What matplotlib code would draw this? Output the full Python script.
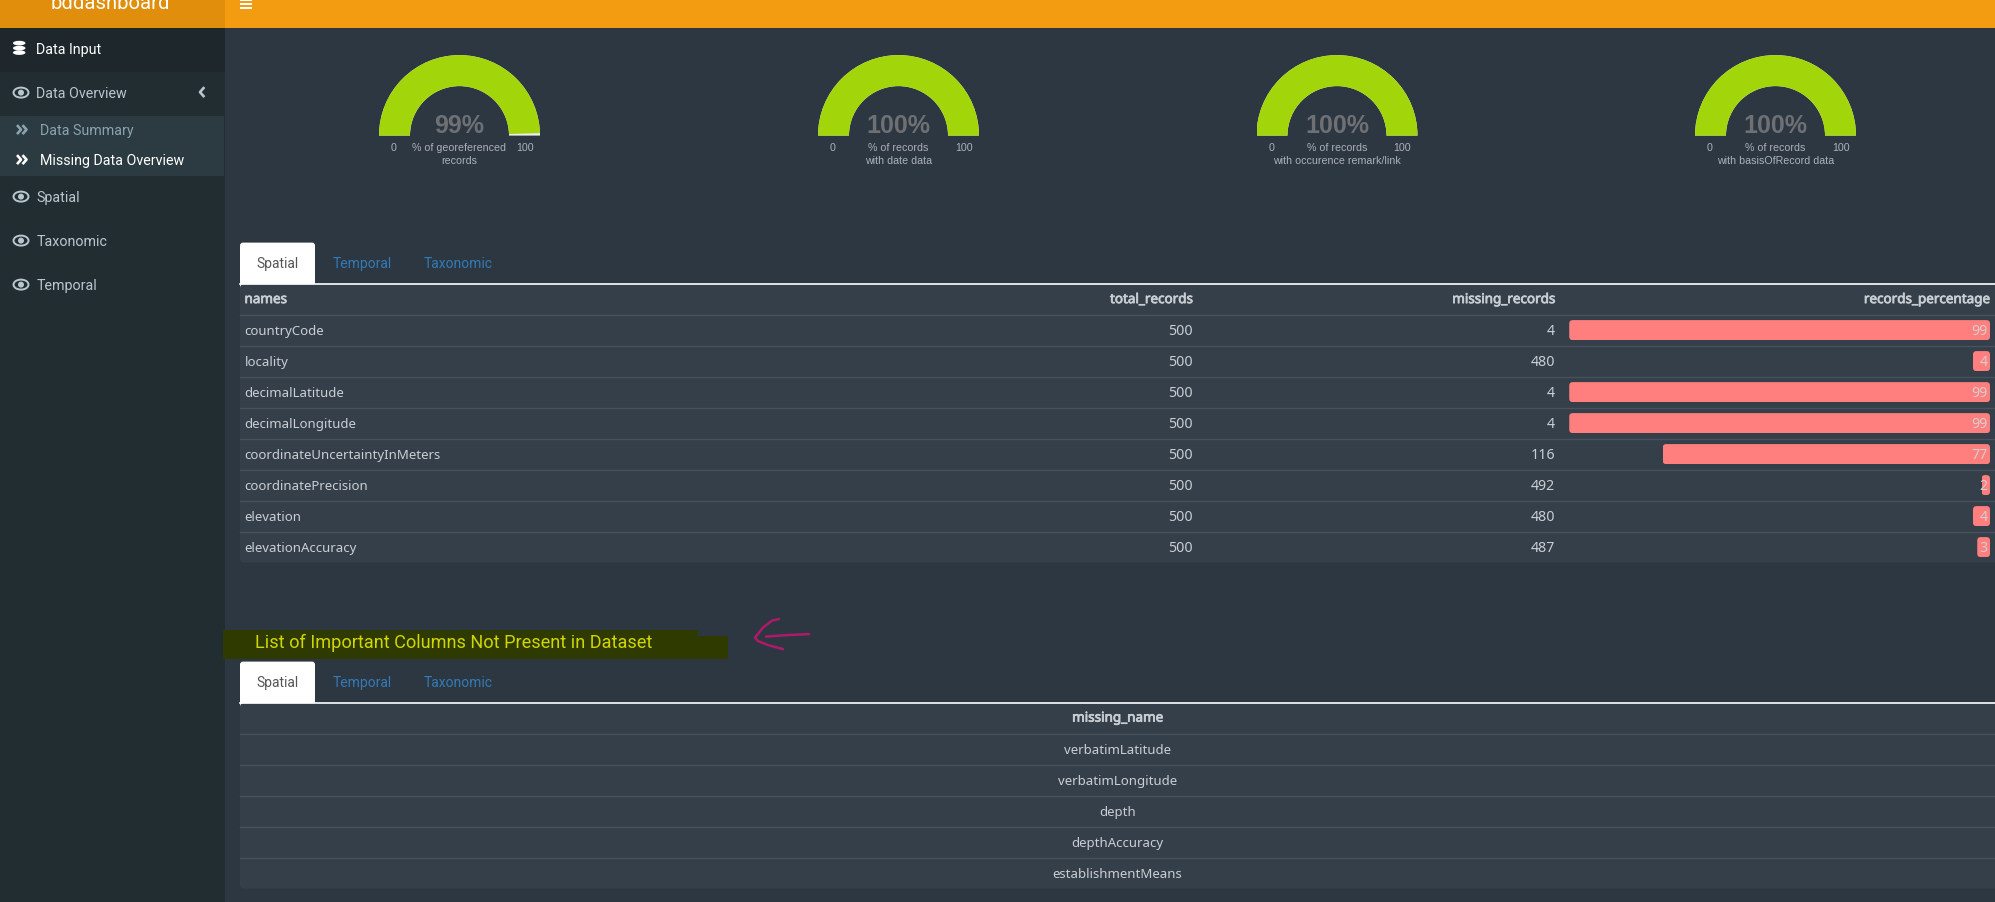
import matplotlib
matplotlib.use("Agg")
import matplotlib.pyplot as plt
import matplotlib.patheffects as pe
from matplotlib.patches import Rectangle, FancyBboxPatch, Wedge, Ellipse, Circle, Polygon

# ---- data ----
gauge_values = [99, 100, 100, 100]
gauge_labels = [["% of georeferenced", "records"], ["% of records", "with date data"],
                ["% of records", "with occurence remark/link"], ["% of records", "with basisOfRecord data"]]
gauge_min = 0
gauge_max = 100
names = ["countryCode", "locality", "decimalLatitude", "decimalLongitude",
         "coordinateUncertaintyInMeters", "coordinatePrecision", "elevation", "elevationAccuracy"]
total_records = [500, 500, 500, 500, 500, 500, 500, 500]
missing_records = [4, 480, 4, 4, 116, 492, 480, 487]
records_percentage = [99, 4, 99, 99, 77, 2, 4, 3]
missing_names = ["verbatimLatitude", "verbatimLongitude", "depth", "depthAccuracy", "establishmentMeans"]
tabs = ["Spatial", "Temporal", "Taxonomic"]
menu = ["Data Input", "Data Overview", "Spatial", "Taxonomic", "Temporal"]
submenu = ["Data Summary", "Missing Data Overview"]
heading = "List of Important Columns Not Present in Dataset"

# ---- style ----
W, H = 1995, 903
DY = 0.6
BG = "#2d3741"; TABLE = "#353f4a"; RULE = "#48525c"; SIDE = "#222d32"
UI = "Roboto"; TXT = "Noto Sans"; TCOL = "#c9ced3"
NAME_FS = 9.5; NUM_FS = 10.2; HEAD_FS = 9.7; MENU_FS = 10.3
BOLD = [pe.withStroke(linewidth=0.55, foreground=TCOL)]
fig = plt.figure(figsize=(W / 100, H / 100), dpi=100, facecolor=BG)

def px_axes(x0, y0, x1, y1):
    return fig.add_axes([x0 / W, 1 - (y1 + DY) / H, (x1 - x0) / W, (y1 - y0) / H])

c = px_axes(0, 0, W, H)
c.set_xlim(0, W); c.set_ylim(H, 0); c.axis("off")

def rect(x0, y0, x1, y1, color, **kw):
    c.add_patch(Rectangle((x0, y0), x1 - x0, y1 - y0, fc=color, ec="none", **kw))

# header & sidebar
rect(0, -2, W, 28, "#f39c12")
rect(0, -2, 225, 28, "#e08e0b")
rect(0, 28, 225, H + 2, SIDE)
rect(0, 28, 225, 72, "#1e282c")
rect(0, 116, 224, 176, "#2c3b41")
c.text(110.5, 8.5, "bddashboard", color="white", fontsize=14.6, family=UI, ha="center", va="baseline")
for y in (-1, 3, 7):
    rect(240, y, 252, y + 1.9, "white")

def eye(x, y, col):
    c.add_patch(Ellipse((x, y), 15, 10, fc="none", ec=col, lw=1.4))
    c.add_patch(Circle((x, y), 3, fc=col, ec="none"))

def dbl(x, y, col):
    for dx in (0, 5.5):
        c.plot([x + dx, x + dx + 4, x + dx], [y - 4.5, y, y + 4.5], color=col, lw=1.9, solid_capstyle="butt")

# database icon
for y in (43.5, 48.5, 53):
    c.add_patch(Ellipse((19.2, y), 12.5, 4.6, fc="white", ec="none"))
c.text(36.5, 49, menu[0], color="white", fontsize=MENU_FS, family=UI, va="center")
for label, y in zip(menu[1:], (93, 197, 241, 285)):
    eye(21, y, "#b8c7ce")
    c.text(36.5, y, label, color="#b8c7ce", fontsize=MENU_FS, family=UI, va="center")
c.plot([203.5, 200, 203.5], [88.5, 92.5, 96.5], color="#b8c7ce", lw=1.9)
dbl(17, 130, "#8aa4af")
c.text(39.5, 130, submenu[0], color="#8aa4af", fontsize=MENU_FS, family=UI, va="center")
dbl(17, 160, "white")
c.text(39.5, 160, submenu[1], color="white", fontsize=MENU_FS, family=UI, va="center")

# gauges
gauge_cx = [459.5, 898.5, 1337, 1775.5]
for cx, v, lab in zip(gauge_cx, gauge_values, gauge_labels):
    a = px_axes(cx - 80.5, 55.5, cx + 80.5, 136)
    a.set_xlim(-1, 1); a.set_ylim(0, 1); a.axis("off")
    a.add_patch(Wedge((0, 0), 1, 0, 180, width=0.385, fc="#edebeb", ec="none"))
    frac = (v - gauge_min) / (gauge_max - gauge_min)
    a.add_patch(Wedge((0, 0), 1, 180 * (1 - frac), 180, width=0.385, fc="#a3d60a", ec="none"))
    c.text(cx, 125, f"{v}%", color="#6e7074", fontsize=18, family="Liberation Sans", weight="bold",
           ha="center", va="center")
    c.text(cx - 65.5, 147, str(gauge_min), color="#aab2b9", fontsize=7.7, family="Liberation Sans", ha="center", va="center")
    c.text(cx + 65.5, 147, str(gauge_max), color="#aab2b9", fontsize=7.7, family="Liberation Sans", ha="center", va="center")
    c.text(cx, 147, lab[0], color="#aab2b9", fontsize=7.7, family="Liberation Sans", ha="center", va="center")
    c.text(cx, 160, lab[1], color="#aab2b9", fontsize=7.7, family="Liberation Sans", ha="center", va="center")

def tabset(y_top, y_line, y_text):
    c.add_patch(FancyBboxPatch((240, y_top), 75, 60, boxstyle="round,pad=0,rounding_size=3", fc="white", ec="none"))
    for t, x, col in zip(tabs, (277.5, 362.5, 458.5), ("#555555", "#337ab7", "#337ab7")):
        c.text(x, y_text, t, color=col, fontsize=10, family=UI, ha="center", va="center")

def table_bg(y_line, y_bottom, rules):
    c.add_patch(FancyBboxPatch((240, y_line), W - 240 + 6, y_bottom - y_line,
                               boxstyle="round,pad=0,rounding_size=4", fc=TABLE, ec="none"))
    c.plot([240, W], [y_line, y_line], color="white", lw=1.2)
    for y in rules:
        c.plot([240, W], [y, y], color=RULE, lw=1)

def head(x, y, s, ha):
    c.text(x, y, s, color=TCOL, fontsize=HEAD_FS, family=TXT, weight="bold", ha=ha, va="center", path_effects=BOLD)

# first table
tabset(243, 284, 263)
row_y0 = 315.0; row_h = 31.0
table_bg(284.5, 563, [row_y0 + row_h * i for i in range(8)])
head(244.5, 300, "names", "left")
head(1193, 300, "total_records", "right")
head(1555, 300, "missing_records", "right")
head(1990, 300, "records_percentage", "right")
for i, (n, t, m) in enumerate(zip(names, total_records, missing_records)):
    y = row_y0 + row_h * (i + 0.5)
    c.text(244.5, y, n, color=TCOL, fontsize=NAME_FS, family=TXT, va="center")
    c.text(1193, y, str(t), color=TCOL, fontsize=NUM_FS, family=TXT, ha="right", va="center")
    c.text(1555, y, str(m), color=TCOL, fontsize=NUM_FS, family=TXT, ha="right", va="center")

# percentage bars: grow leftwards from the right edge of the cell
b = px_axes(1565, 315, 1990, 563)
b.set_xlim(100, 0); b.set_ylim(len(names) - 0.5, -0.5); b.axis("off"); b.patch.set_alpha(0)
bar_h = 20 / 31
bars = b.barh(range(len(names)), records_percentage, height=bar_h, color="#ff7f7f", linewidth=0)
for i, (bar, v) in enumerate(zip(bars, records_percentage)):
    rx = 3.5 / 4.25
    clip = FancyBboxPatch((0, i - bar_h / 2), v, bar_h, boxstyle=f"round,pad=0,rounding_size={rx}",
                          mutation_aspect=(3.5 / 31) / rx, transform=b.transData)
    bar.set_clip_path(clip)
    b.annotate(str(v), (0, i), xytext=(-2.5, 0), textcoords="offset pixels", color="#d6cdcd", fontsize=NUM_FS,
               family=TXT, ha="right", va="center", annotation_clip=False)

# heading with marker highlight
c.add_patch(Polygon([(223, 630), (697.5, 630), (697.5, 636), (728, 636), (728, 659), (223, 659)],
                    fc="#2f3a00", ec="none"))
c.text(255, 642, heading, color="#cfd600", fontsize=13.1, family=UI, va="center")
c.plot([779, 772, 763, 755, 758, 768, 783], [619.5, 621, 628, 638, 641.5, 645.5, 649.5],
       color="#b0196a", lw=1.8, solid_capstyle="round", solid_joinstyle="round")
c.plot([766, 787, 809], [637, 635.5, 634.5], color="#b0196a", lw=1.8, solid_capstyle="round")

# second table
tabset(662, 703, 682)
y2 = [734 + 31 * i for i in range(5)]
table_bg(703.5, 889, y2)
head(1117.5, 718.5, "missing_name", "center")
for i, n in enumerate(missing_names):
    c.text(1117.5, 734 + 31 * (i + 0.5), n, color=TCOL, fontsize=NAME_FS, family=TXT, ha="center", va="center")

fig.savefig("out.png", dpi=100, facecolor=BG)
